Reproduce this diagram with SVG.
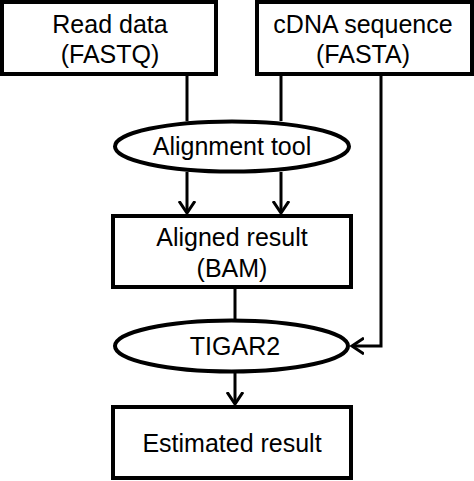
<svg xmlns="http://www.w3.org/2000/svg" width="474" height="481" viewBox="0 0 474 481">
<style>
.box{fill:#fff;stroke:#000;stroke-width:4}
.ell{fill:#fff;stroke:#000;stroke-width:4}
.t{font-family:"Liberation Sans",Arial,sans-serif;font-size:25px;fill:#000;text-anchor:middle}
.c{fill:none;stroke:#000;stroke-width:3}
</style>
<defs>
<marker id="arr" viewBox="-12 -9 14 18" markerWidth="14" markerHeight="18" refX="0" refY="0" orient="auto" markerUnits="userSpaceOnUse">
<path d="M-12,-8 L0,0 L-12,8" fill="none" stroke="#000" stroke-width="3"/>
</marker>
</defs>
<g id="connectors">
<line class="c" x1="187" y1="76" x2="187" y2="121"/>
<line class="c" x1="281" y1="76" x2="281" y2="121"/>
<line class="c" x1="187" y1="172" x2="187" y2="213" marker-end="url(#arr)"/>
<line class="c" x1="281" y1="172" x2="281" y2="213" marker-end="url(#arr)"/>
<line class="c" x1="235" y1="289" x2="235" y2="320"/>
<polyline class="c" points="381,76 381,346 352,346" marker-end="url(#arr)"/>
<line class="c" x1="235" y1="372" x2="235" y2="404" marker-end="url(#arr)"/>
</g>
<g id="read">
<rect class="box" x="2" y="2" width="214" height="72"/>
<text class="t" x="110" y="33">Read data</text>
<text class="t" x="110" y="63">(FASTQ)</text>
</g>
<g id="cdna">
<rect class="box" x="257" y="2" width="215" height="72"/>
<text class="t" x="363" y="33">cDNA sequence</text>
<text class="t" x="363" y="63">(FASTA)</text>
</g>
<g id="align">
<ellipse class="ell" cx="232" cy="146.5" rx="117" ry="25"/>
<text class="t" x="232" y="155">Alignment tool</text>
</g>
<g id="aligned">
<rect class="box" x="113" y="216" width="238" height="71"/>
<text class="t" x="232" y="246">Aligned result</text>
<text class="t" x="232" y="277">(BAM)</text>
</g>
<g id="tigar">
<ellipse class="ell" cx="231.5" cy="346" rx="116.5" ry="25.5"/>
<text class="t" x="235" y="355">TIGAR2</text>
</g>
<g id="estimated">
<rect class="box" x="113" y="407" width="238" height="71"/>
<text class="t" x="232" y="452">Estimated result</text>
</g>
</svg>
